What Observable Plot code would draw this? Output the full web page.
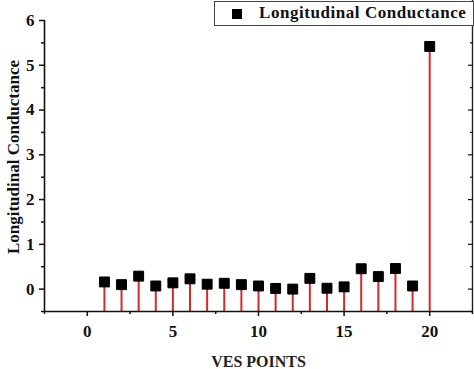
<!DOCTYPE html>
<html>
<head>
<meta charset="utf-8">
<script src="https://cdn.jsdelivr.net/npm/d3@7"></script>
<script src="https://cdn.jsdelivr.net/npm/@observablehq/plot@0.6"></script>
<style>
  html, body { margin: 0; padding: 0; background: #fff; }
  #wrap { position: relative; width: 474px; height: 369px; overflow: hidden; }
  #legend {
    position: absolute; left: 214px; top: 1px; width: 258px; height: 23px;
    border: 1px solid #444; background: #fff; box-sizing: content-box;
    font-family: "Liberation Serif", "Times New Roman", serif; font-weight: bold;
    font-size: 17px; letter-spacing: 0.55px; color: #111;
  }
  #legend .sw { position: absolute; left: 17px; top: 7px; width: 10px; height: 10px; background: #000; }
  #legend .lb { position: absolute; left: 44px; top: 1px; white-space: nowrap; }
</style>
</head>
<body>
<div id="wrap"></div>
<script>
const vesPoints = [1, 2, 3, 4, 5, 6, 7, 8, 9, 10, 11, 12, 13, 14, 15, 16, 17, 18, 19, 20];
const conductance = [0.16, 0.10, 0.29, 0.07, 0.14, 0.23, 0.11, 0.13, 0.10, 0.07, 0.015, 0.0, 0.24, 0.02, 0.05, 0.455, 0.28, 0.46, 0.07, 5.42];
const xMajorTicks = [0, 5, 10, 15, 20];
const xMinorTicks = [-2.5, 2.5, 7.5, 12.5, 17.5, 22.5];
const yMajorTicks = [0, 1, 2, 3, 4, 5, 6];
const yMinorTicks = [-0.5, 0.5, 1.5, 2.5, 3.5, 4.5, 5.5];
const seriesName = "Longitudinal Conductance";
const xTitle = "VES POINTS";
const yTitle = "Longitudinal Conductance";

const data = vesPoints.map((x, i) => ({x, v: conductance[i]}));
const font = "'Liberation Serif', 'Times New Roman', serif";
const xMin = -2.5, xMax = 22.5, yMin = -0.5, yMax = 6;

const chart = Plot.plot({
  width: 474, height: 369,
  marginTop: 20, marginBottom: 58, marginLeft: 44, marginRight: 2,
  style: {fontFamily: font, color: "#111", background: "transparent", overflow: "visible"},
  x: {domain: [xMin, xMax]},
  y: {domain: [yMin, yMax]},
  marks: [
    // stems
    Plot.ruleX(data, {x: "x", y1: yMin, y2: "v", stroke: "#d42a2a", strokeWidth: 2}),
    Plot.dot(data, {x: "x", y: "v", symbol: "square", r: 5.6, fill: "#000", stroke: "#000", strokeWidth: 1, strokeLinejoin: "round"}),
    // frame lines
    Plot.ruleY([yMin], {stroke: "#111", strokeWidth: 1.6}),
    Plot.ruleX([xMin], {y1: yMin, y2: yMax, stroke: "#111", strokeWidth: 1.6}),
    Plot.ruleX([xMax], {y1: yMin, y2: 6.5, stroke: "#222", strokeWidth: 1.4}),
    // x axis
    Plot.axisX({ticks: xMajorTicks, tickSize: 5, tickPadding: 8, tickFormat: d3.format("d"), fontSize: 17, fontWeight: "bold", label: null, strokeWidth: 1.5}),
    Plot.axisX({ticks: xMinorTicks, tickSize: 3, tickFormat: () => "", label: null, strokeWidth: 1.5}),
    // y axis left
    Plot.axisY({ticks: yMajorTicks, tickSize: 5, tickPadding: 5, tickFormat: d3.format("d"), fontSize: 17, fontWeight: "bold", label: null, strokeWidth: 1.5}),
    Plot.axisY({ticks: yMinorTicks, tickSize: 3, tickFormat: () => "", label: null, strokeWidth: 1.5}),
    // y axis right (inward ticks)
    Plot.axisY({anchor: "right", ticks: yMajorTicks, tickSize: -5, tickFormat: () => "", label: null, strokeWidth: 1.2}),
    Plot.axisY({anchor: "right", ticks: yMinorTicks, tickSize: -3, tickFormat: () => "", label: null, strokeWidth: 1.2}),
    // titles
    Plot.text([yTitle], {frameAnchor: "left", textAnchor: "middle", lineAnchor: "middle", rotate: -90, dx: -31, dy: -9, fontSize: 17, fontWeight: "bold", fill: "#111", style: "letter-spacing:0.3px"}),
    Plot.text([xTitle], {frameAnchor: "bottom", textAnchor: "middle", lineAnchor: "middle", dy: 50, fontSize: 16, fontWeight: "bold", fill: "#222", style: "letter-spacing:1px"})
  ]
});

const wrap = document.getElementById("wrap");
wrap.appendChild(chart);
const legend = document.createElement("div");
legend.id = "legend";
legend.innerHTML = `<div class="sw"></div><div class="lb">${seriesName}</div>`;
wrap.appendChild(legend);
chart.style.position = "absolute";
chart.style.left = "0";
chart.style.top = "0";
</script>
</body>
</html>
